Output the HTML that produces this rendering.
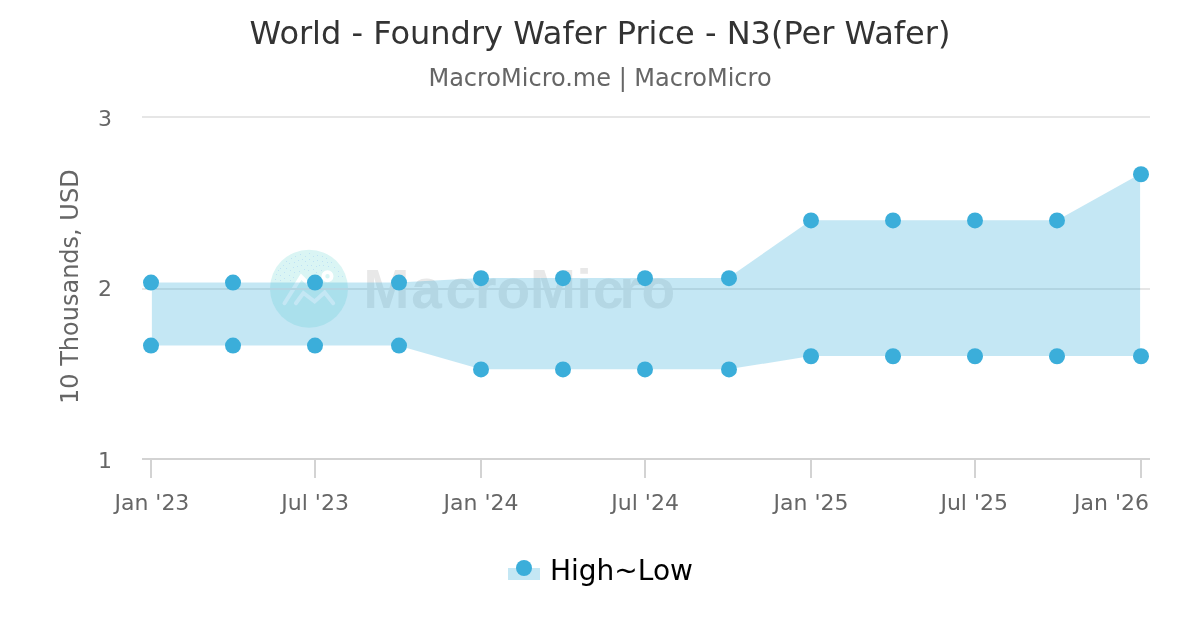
<!DOCTYPE html>
<html><head><meta charset="utf-8"><title>World - Foundry Wafer Price - N3(Per Wafer)</title>
<style>
html,body{margin:0;padding:0;background:#fff;}
body{width:1200px;height:630px;overflow:hidden;}
svg{display:block;font-family:"DejaVu Sans","Liberation Sans",sans-serif;}
</style></head><body>
<svg width="1200" height="630" viewBox="0 0 1200 630">
<rect width="1200" height="630" fill="#fff"/>
<g id="wm">
<circle cx="309" cy="288.7" r="39" fill="#daf5f4"/>
<g fill="#bfe2f4"><rect x="309" y="253" width="1" height="1"/><rect x="300" y="254" width="1" height="1"/><rect x="317" y="255" width="1" height="1"/><rect x="295" y="256" width="1" height="1"/><rect x="305" y="256" width="1" height="1"/><rect x="313" y="256" width="1" height="1"/><rect x="322" y="256" width="1" height="1"/><rect x="291" y="258" width="1" height="1"/><rect x="326" y="258" width="1" height="1"/><rect x="302" y="259" width="1" height="1"/><rect x="309" y="259" width="1" height="1"/><rect x="317" y="260" width="1" height="1"/><rect x="298" y="260" width="1" height="1"/><rect x="286" y="261" width="1" height="1"/><rect x="305" y="261" width="1" height="1"/><rect x="313" y="261" width="1" height="1"/><rect x="322" y="261" width="1" height="1"/><rect x="327" y="262" width="1" height="1"/><rect x="331" y="262" width="1" height="1"/><rect x="294" y="262" width="1" height="1"/><rect x="289" y="263" width="1" height="1"/><rect x="283" y="265" width="1" height="1"/><rect x="301" y="265" width="1" height="1"/><rect x="307" y="265" width="1" height="1"/><rect x="311" y="265" width="1" height="1"/><rect x="319" y="265" width="1" height="1"/><rect x="323" y="265" width="1" height="1"/><rect x="297" y="266" width="1" height="1"/><rect x="316" y="266" width="1" height="1"/><rect x="328" y="266" width="1" height="1"/><rect x="334" y="267" width="1" height="1"/><rect x="280" y="268" width="1" height="1"/><rect x="286" y="268" width="1" height="1"/><rect x="293" y="267" width="1" height="1"/><rect x="304" y="269" width="1" height="1"/><rect x="313" y="269" width="1" height="1"/><rect x="278" y="270" width="1" height="1"/><rect x="290" y="270" width="1" height="1"/><rect x="308" y="270" width="1" height="1"/><rect x="321" y="270" width="1" height="1"/><rect x="299" y="271" width="1" height="1"/><rect x="338" y="271" width="1" height="1"/><rect x="284" y="272" width="1" height="1"/><rect x="294" y="272" width="1" height="1"/><rect x="316" y="272" width="1" height="1"/><rect x="276" y="274" width="1" height="1"/><rect x="280" y="275" width="1" height="1"/><rect x="289" y="275" width="1" height="1"/><rect x="338" y="276" width="1" height="1"/><rect x="342" y="276" width="1" height="1"/><rect x="293" y="277" width="1" height="1"/><rect x="284" y="278" width="1" height="1"/><rect x="275" y="279" width="1" height="1"/><rect x="280" y="280" width="1" height="1"/><rect x="290" y="280" width="1" height="1"/></g>
<g fill="none" stroke="#fff" stroke-width="4" stroke-linecap="round" stroke-linejoin="miter">
<path d="M284.5,303.2 L301.2,276.8 L311,286.6"/>
<path d="M295.9,303.2 L303.4,293 L314.6,301.5 L324.6,292.4 L333.2,303.2"/>
<circle cx="327.5" cy="276.2" r="4.1" stroke-width="3.8"/>
</g>
<text x="363.50 411.25 445.50 475.00 496.50 530.00 576.50 593.00 619.50 641.50" y="308" font-family="'Liberation Sans',sans-serif" font-weight="bold" font-size="55" fill="#e8e8e8">MacroMicro</text>
</g>
<g fill="#e6e6e6"><rect x="142" y="116" width="1008" height="2"/><rect x="142" y="288" width="1008" height="2"/></g>
<path d="M151.9,282.4 L233.0,282.4 L315.1,282.4 L398.0,282.4 L481.0,278.0 L563.0,278.0 L645.1,278.0 L728.0,278.0 L811.0,220.3 L892.1,220.3 L974.2,220.3 L1057.1,220.3 L1140.1,174.1 L1140.1,356.1 L1057.1,356.1 L974.2,356.1 L892.1,356.1 L811.0,356.1 L728.0,369.3 L645.1,369.3 L563.0,369.3 L481.0,369.3 L398.0,345.4 L315.1,345.4 L233.0,345.4 L151.9,345.4Z" fill="#3baeda" fill-opacity="0.3"/>
<g fill="#d3d3d3"><rect x="142" y="458" width="1008" height="2"/><rect x="150" y="458" width="2" height="20"/><rect x="314" y="458" width="2" height="20"/><rect x="480" y="458" width="2" height="20"/><rect x="644" y="458" width="2" height="20"/><rect x="810" y="458" width="2" height="20"/><rect x="974" y="458" width="2" height="20"/><rect x="1140" y="458" width="2" height="20"/></g>
<g fill="#3baeda"><circle cx="151" cy="282.55" r="8"/><circle cx="233" cy="282.55" r="8"/><circle cx="315" cy="282.55" r="8"/><circle cx="399" cy="282.55" r="8"/><circle cx="481" cy="278.15" r="8"/><circle cx="563" cy="278.15" r="8"/><circle cx="645" cy="278.15" r="8"/><circle cx="729" cy="278.15" r="8"/><circle cx="811" cy="220.45" r="8"/><circle cx="893" cy="220.45" r="8"/><circle cx="975" cy="220.45" r="8"/><circle cx="1057" cy="220.45" r="8"/><circle cx="1141" cy="174.25" r="8"/><circle cx="151" cy="345.55" r="8"/><circle cx="233" cy="345.55" r="8"/><circle cx="315" cy="345.55" r="8"/><circle cx="399" cy="345.55" r="8"/><circle cx="481" cy="369.45" r="8"/><circle cx="563" cy="369.45" r="8"/><circle cx="645" cy="369.45" r="8"/><circle cx="729" cy="369.45" r="8"/><circle cx="811" cy="356.25" r="8"/><circle cx="893" cy="356.25" r="8"/><circle cx="975" cy="356.25" r="8"/><circle cx="1057" cy="356.25" r="8"/><circle cx="1141" cy="356.25" r="8"/></g>
<text x="600" y="43.6" text-anchor="middle" font-size="32" fill="#333">World - Foundry Wafer Price - N3(Per Wafer)</text>
<text x="600" y="86" text-anchor="middle" font-size="24" fill="#666">MacroMicro.me | MacroMicro</text>
<g font-size="22" fill="#666"><text x="151.9" y="510" text-anchor="middle">Jan '23</text><text x="315.1" y="510" text-anchor="middle">Jul '23</text><text x="481.0" y="510" text-anchor="middle">Jan '24</text><text x="645.1" y="510" text-anchor="middle">Jul '24</text><text x="811.0" y="510" text-anchor="middle">Jan '25</text><text x="974.2" y="510" text-anchor="middle">Jul '25</text><text x="1149" y="510" text-anchor="end">Jan '26</text>
<text x="112" y="125.8" text-anchor="end">3</text>
<text x="112" y="296" text-anchor="end">2</text>
<text x="112" y="468" text-anchor="end">1</text>
</g>
<text transform="translate(78.2,286.7) rotate(-90)" text-anchor="middle" font-size="24" fill="#666">10 Thousands, USD</text>
<rect x="508" y="568" width="32" height="12" fill="#3baeda" fill-opacity="0.3"/>
<circle cx="524" cy="568" r="8" fill="#3baeda"/>
<text x="550" y="580" font-size="28" fill="#000">High~Low</text>
</svg>
</body></html>
